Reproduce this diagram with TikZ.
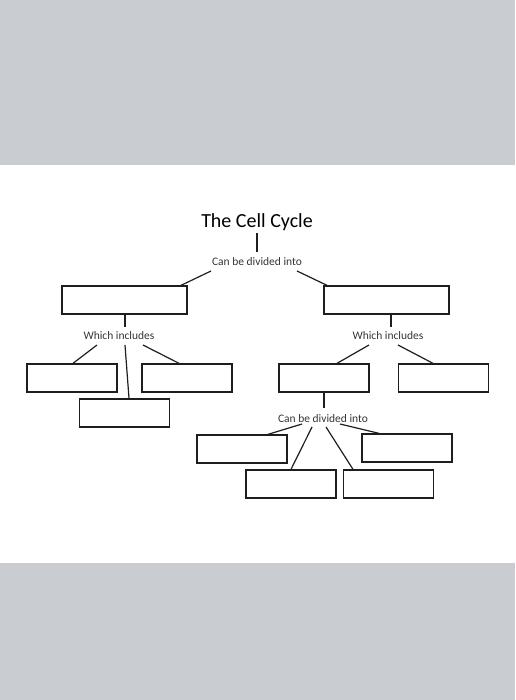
\documentclass[tikz,border=0pt]{standalone}
\usepackage{fontspec}
\setmainfont{Carlito}
\definecolor{bandgray}{RGB}{201,205,209}
\definecolor{ink}{RGB}{30,30,30}
\tikzset{
  blank/.style={draw=ink, line width=1.3pt, minimum width=90pt, minimum height=28pt, inner sep=0pt},
  wide/.style={blank, minimum width=125pt},
  label/.style={font=\fontsize{11.5}{12}\selectfont, text=ink!90, inner sep=0pt},
  conn/.style={draw=ink, line width=1.2pt},
}
\begin{document}
\begin{tikzpicture}[x=1pt,y=-1pt]
\useasboundingbox (0,0) rectangle (515,700);
\fill[bandgray] (0,0) rectangle (515,165);
\fill[bandgray] (0,563) rectangle (515,700);
% texts
\node[font=\fontsize{20}{22}\selectfont, inner sep=0pt] (title) at (257,222) {The Cell Cycle};
\node[label] (cbd1) at (257,262) {Can be divided into};
\node[label] (wi1) at (119,336) {Which includes};
\node[label] (wi2) at (388,336) {Which includes};
\node[label] (cbd2) at (323,419) {Can be divided into};
% boxes
\node[wide] (L1) at (124.5,300) {};
\node[wide] (R1) at (386.5,300) {};
\node[blank] (A) at (72,378) {};
\node[blank] (B) at (187,378) {};
\node[blank] (C) at (124.5,413) {};
\node[blank] (D) at (324,378) {};
\node[blank] (E) at (443.5,378) {};
\node[blank] (F) at (242,449) {};
\node[blank] (G) at (407,448) {};
\node[blank] (H) at (291,484) {};
\node[blank] (I) at (388.5,484) {};
% connectors
\draw[conn] ([yshift=-11pt]title.center) -- ([yshift=10pt]cbd1.center);
\draw[conn] ([xshift=-46pt,yshift=-9pt]cbd1.center) -- ([xshift=56.5pt]L1.north);
\draw[conn] ([xshift=40pt,yshift=-9pt]cbd1.center) -- ([xshift=-59.5pt]R1.north);
\draw[conn] ([xshift=0.5pt]L1.south) -- ([xshift=6pt,yshift=9pt]wi1.center);
\draw[conn] ([xshift=-22pt,yshift=-9pt]wi1.center) -- ([xshift=1pt]A.north);
\draw[conn] ([xshift=6pt,yshift=-9pt]wi1.center) -- ([xshift=4.5pt]C.north);
\draw[conn] ([xshift=24pt,yshift=-9pt]wi1.center) -- ([xshift=-8pt]B.north);
\draw[conn] ([xshift=4.5pt]R1.south) -- ([xshift=3pt,yshift=9pt]wi2.center);
\draw[conn] ([xshift=-19pt,yshift=-9pt]wi2.center) -- ([xshift=13pt]D.north);
\draw[conn] ([xshift=10pt,yshift=-9pt]wi2.center) -- ([xshift=-10.5pt]E.north);
\draw[conn] (D.south) -- ([xshift=1pt,yshift=11pt]cbd2.center);
\draw[conn] ([xshift=-21pt,yshift=-5pt]cbd2.center) -- ([xshift=26pt]F.north);
\draw[conn] ([xshift=17pt,yshift=-5pt]cbd2.center) -- ([xshift=-28pt]G.north);
\draw[conn] ([xshift=-11pt,yshift=-8pt]cbd2.center) -- (H.north);
\draw[conn] ([xshift=3pt,yshift=-8pt]cbd2.center) -- ([xshift=-35.5pt]I.north);
\end{tikzpicture}
\end{document}
